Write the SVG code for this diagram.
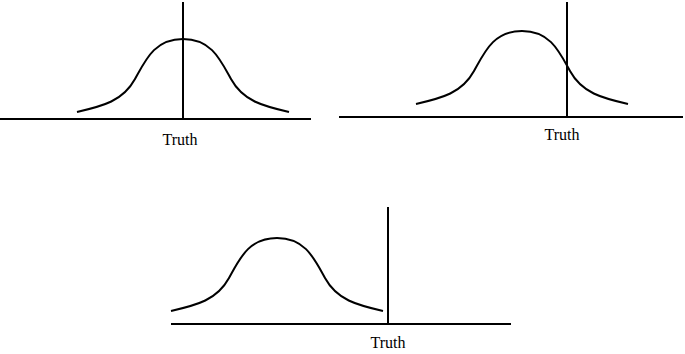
<svg xmlns="http://www.w3.org/2000/svg" xmlns:xlink="http://www.w3.org/1999/xlink" width="685" height="354" viewBox="0 0 685 354">
<style>
.ln{stroke:#000;stroke-width:2;fill:none}
.lb{font-family:"Liberation Serif","Times New Roman",serif;font-size:16px;fill:#000;text-anchor:middle}
</style>
<defs>
<path id="bell" class="ln" d="M -106,73 C -80,67 -60,62 -48,40 C -37,20 -28,0 0,0 C 28,0 37,20 48,40 C 60,62 80,67 106,73"/>
</defs>
<rect width="685" height="354" fill="#fff"/>
<g id="panel1">
<line class="ln" x1="0" y1="119" x2="311" y2="119"/>
<line class="ln" x1="183" y1="2" x2="183" y2="119"/>
<use xlink:href="#bell" href="#bell" transform="translate(183,39)"/>
<text class="lb" x="180" y="145">Truth</text>
</g>
<g id="panel2">
<line class="ln" x1="339" y1="117" x2="683" y2="117"/>
<line class="ln" x1="567" y1="2" x2="567" y2="117"/>
<use xlink:href="#bell" href="#bell" transform="translate(522,31)"/>
<text class="lb" x="562" y="140">Truth</text>
</g>
<g id="panel3">
<line class="ln" x1="171" y1="324" x2="511" y2="324"/>
<line class="ln" x1="388" y1="207" x2="388" y2="324"/>
<use xlink:href="#bell" href="#bell" transform="translate(277,238)"/>
<text class="lb" x="388" y="348">Truth</text>
</g>
</svg>
